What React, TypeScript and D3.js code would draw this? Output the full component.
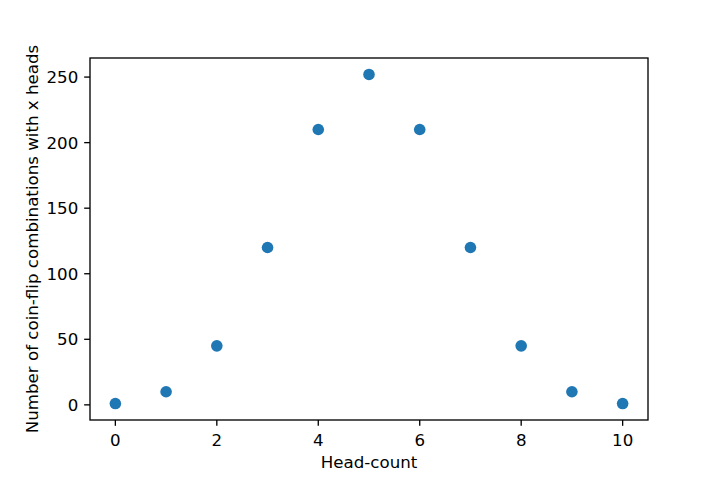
import React from "react";
import * as d3 from "d3";

const headCounts = [0, 1, 2, 3, 4, 5, 6, 7, 8, 9, 10];
const combos = [1, 10, 45, 120, 210, 252, 210, 120, 45, 10, 1];
const xTicks = [0, 2, 4, 6, 8, 10];
const yTicks = [0, 50, 100, 150, 200, 250];
const xLabel = "Head-count";
const yLabel = "Number of coin-flip combinations with x heads";

const W = 720, H = 480;
const L = 90, R = 648, T = 58, B = 420;
const FS = 16.67;
const TL = 5.83;

export default function App() {
  const x = d3.scaleLinear().domain([-0.5, 10.5]).range([L, R]);
  const yMin = d3.min(combos)!, yMax = d3.max(combos)!;
  const pad = (yMax - yMin) * 0.05;
  const y = d3.scaleLinear().domain([yMin - pad, yMax + pad]).range([B, T]);
  const font = "DejaVu Sans, sans-serif";
  return (
    <svg width={W} height={H} style={{ position: "absolute", left: 0, top: 0 }}>
      <rect width={W} height={H} fill="white" />
      {headCounts.map((h, i) => (
        <circle key={i} cx={x(h)} cy={y(combos[i])} r={5.8} fill="#1f77b4" />
      ))}
      <rect x={L} y={T} width={R - L} height={B - T} fill="none" stroke="#000" strokeWidth={1.33} />
      {xTicks.map((t) => (
        <g key={t}>
          <line x1={x(t)} x2={x(t)} y1={B} y2={B + TL} stroke="#000" strokeWidth={1.33} />
          <text x={x(t)} y={B + 25.5} textAnchor="middle" fontFamily={font} fontSize={FS}>{t}</text>
        </g>
      ))}
      {yTicks.map((t) => (
        <g key={t}>
          <line x1={L} x2={L - TL} y1={y(t)} y2={y(t)} stroke="#000" strokeWidth={1.33} />
          <text x={L - 11.7} y={y(t)} dy="0.36em" textAnchor="end" fontFamily={font} fontSize={FS}>{t}</text>
        </g>
      ))}
      <text x={(L + R) / 2} y={468} textAnchor="middle" fontFamily={font} fontSize={FS}>{xLabel}</text>
      <text transform={`translate(38,${(T + B) / 2}) rotate(-90)`} textAnchor="middle" fontFamily={font} fontSize={FS}>{yLabel}</text>
    </svg>
  );
}
